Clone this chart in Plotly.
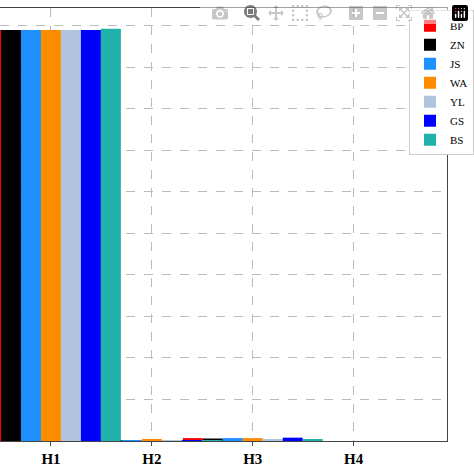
import plotly.graph_objects as go

categories = ["H1", "H2", "H3", "H4"]
cat_pos = [0, 1, 2, 3]
series_names = ["BP", "ZN", "JS", "WA", "YL", "GS", "BS"]
colors = ["#ff0000", "#000000", "#1e90ff", "#ff8c00", "#b0c4de", "#0000ff", "#20b2aa"]
values = [
    [9.9, 0.02, 0.07, 0.0],
    [9.9, 0.02, 0.06, 0.0],
    [9.9, 0.02, 0.07, 0.0],
    [9.9, 0.05, 0.07, 0.0],
    [9.9, 0.02, 0.05, 0.0],
    [9.9, 0.02, 0.08, 0.0],
    [9.93, 0.02, 0.04, 0.0],
]
bar_w = 0.198

fig = go.Figure()
for k, (name, col, vals) in enumerate(zip(series_names, colors, values)):
    fig.add_trace(go.Bar(x=cat_pos, y=vals, name=name, marker_color=col,
                         marker_line_width=0, width=bar_w,
                         offset=(k - 3.5) * bar_w))

fig.update_layout(
    width=474, height=474, margin=dict(l=0, r=0, t=8, b=33),
    plot_bgcolor="white", paper_bgcolor="white", barmode="overlay",
    font=dict(family="Liberation Serif", color="black"),
    legend=dict(x=0.916, y=0.995, xanchor="left", yanchor="top",
                bgcolor="white", bordercolor="#cccccc", borderwidth=1,
                font=dict(size=11), tracegroupgap=0, itemwidth=30),
    showlegend=True,
)
fig.update_xaxes(range=[-0.505, 3.925], tickvals=cat_pos, ticktext=categories,
                 tickfont=dict(size=15, family="Liberation Serif", weight="bold"),
                 showgrid=True, gridcolor="#bbbbbb", griddash="dash",
                 showline=True, linecolor="#444", mirror=True, ticks="outside",
                 ticklen=4, zeroline=False)
fig.update_yaxes(range=[0, 10.43], dtick=1, showticklabels=False,
                 showgrid=True, gridcolor="#bbbbbb", griddash="dash",
                 showline=True, linecolor="#444", mirror=True, zeroline=False)
fig.write_html("out.html")

with open("out.html", encoding="utf-8") as f:
    html = f.read()
html = html.replace("<body>", '<body style="margin:0;overflow:hidden">', 1)
with open("out.html", "w", encoding="utf-8") as f:
    f.write(html)
